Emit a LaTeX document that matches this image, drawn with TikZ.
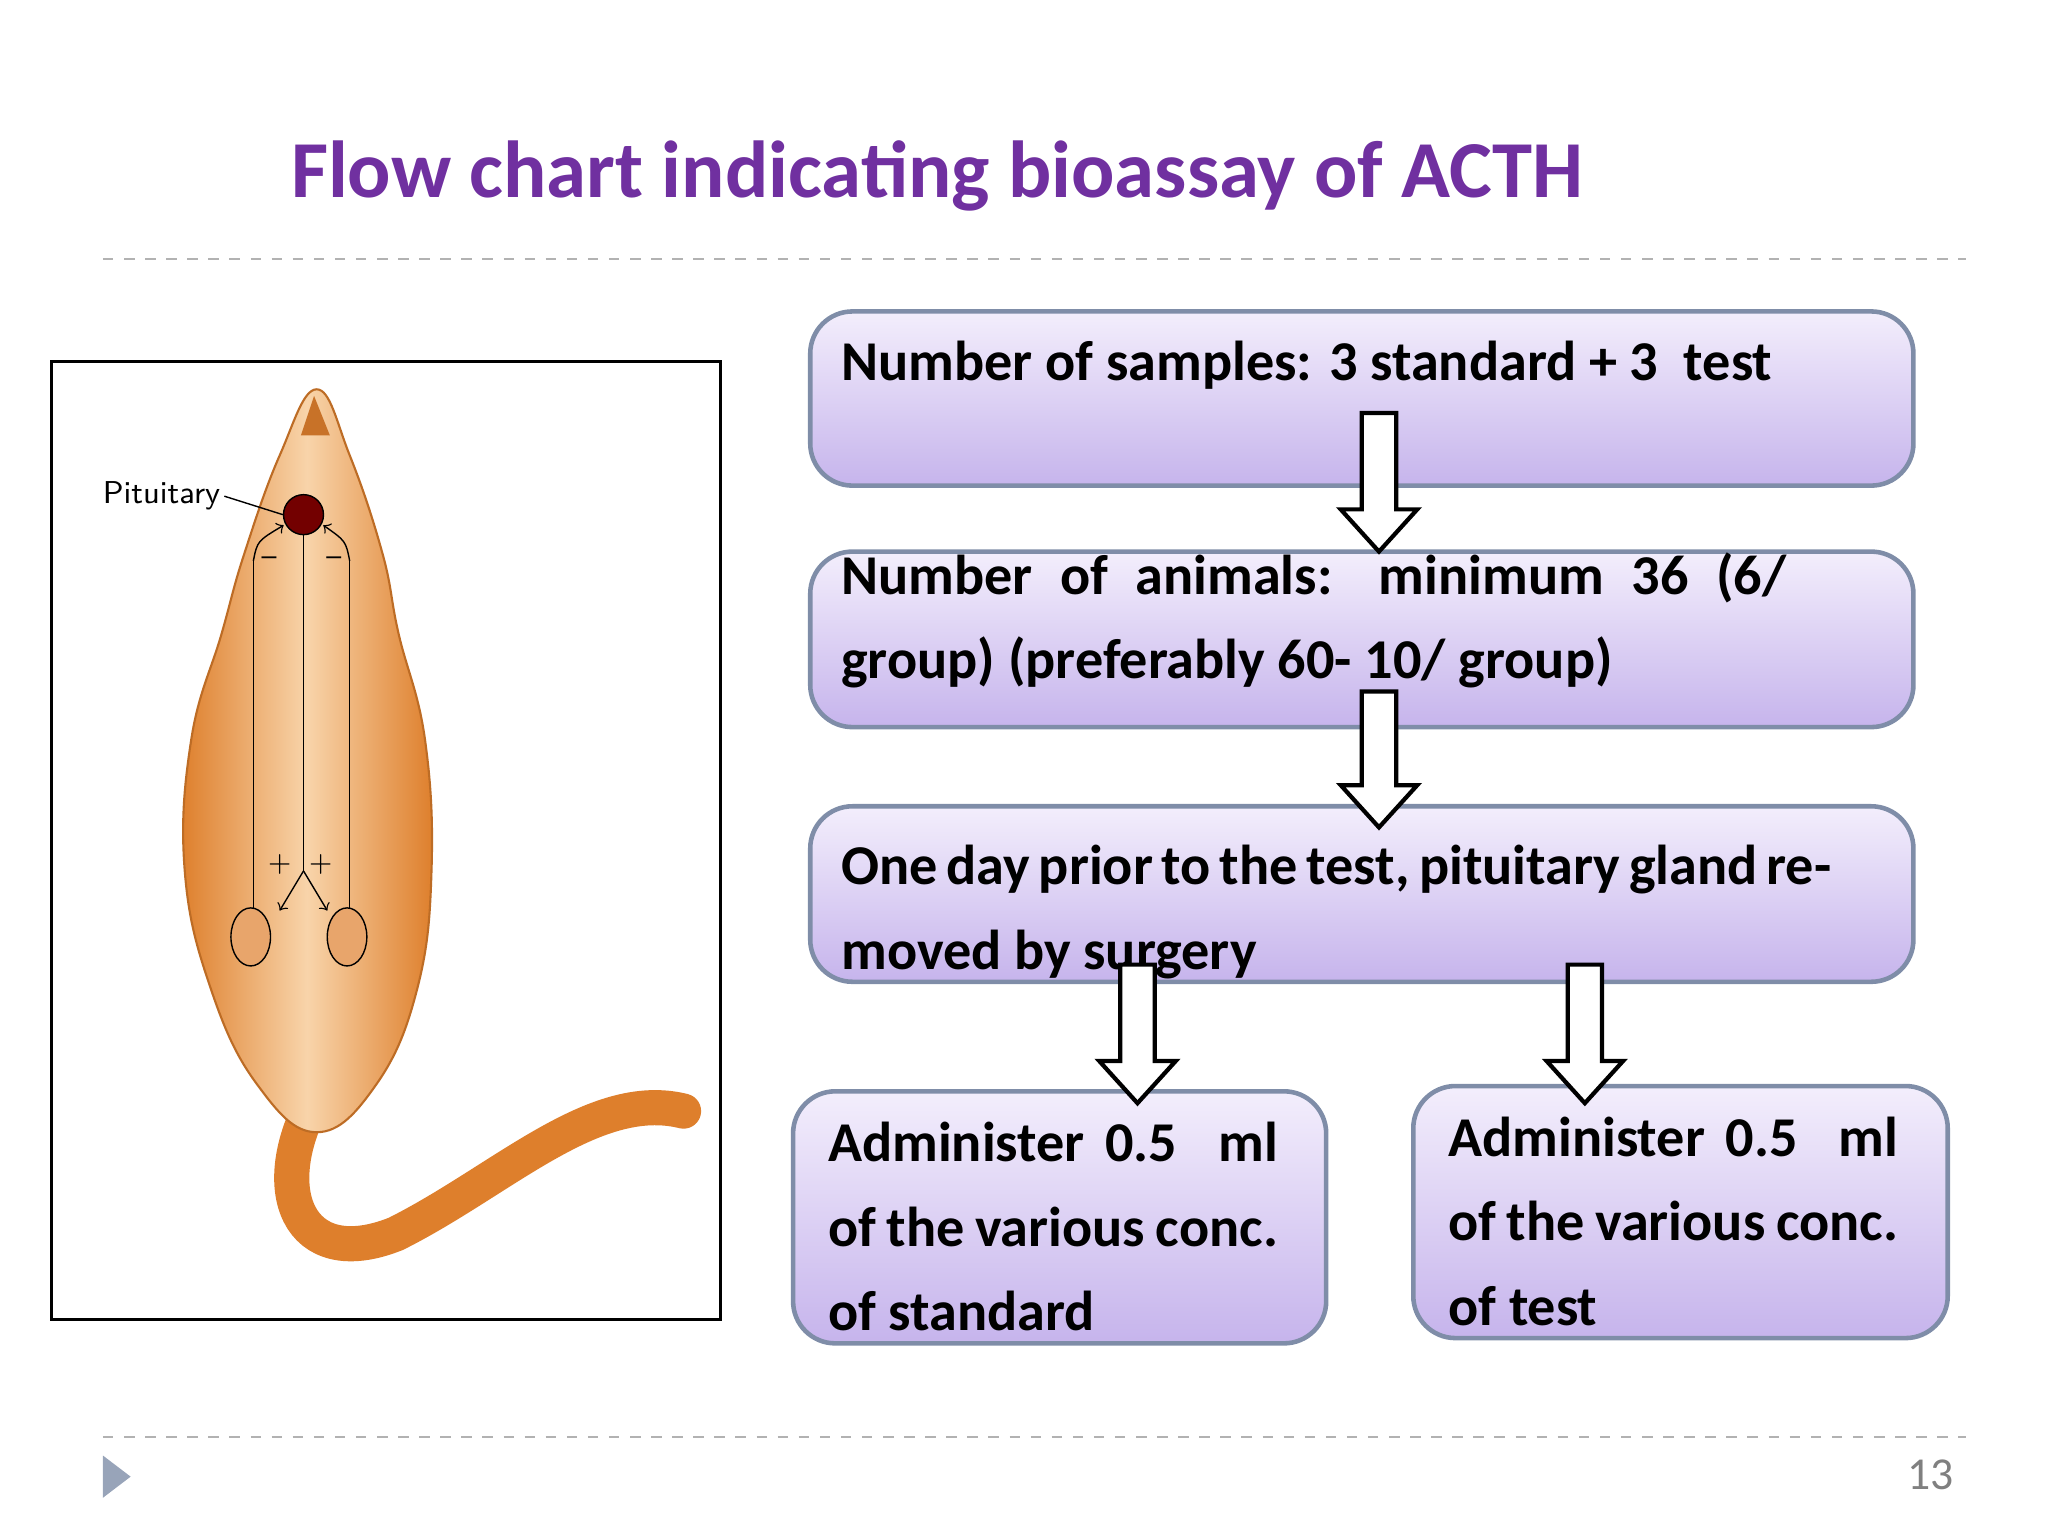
\documentclass[tikz,border=0pt]{standalone}
\usepackage{fontspec}
\setmainfont{Carlito}
\usetikzlibrary{positioning}
\definecolor{titlepurple}{HTML}{7030A0}
\definecolor{boxtop}{HTML}{F3EEFC}
\definecolor{boxbot}{HTML}{C6B4EC}
\definecolor{boxline}{HTML}{7F8DA8}
\definecolor{ratorange}{HTML}{DE7F2C}
\definecolor{ratlight}{HTML}{F8D4AA}
\tikzset{
  stepbox/.style={draw=boxline, line width=1.3pt, rounded corners=12pt,
    top color=boxtop, bottom color=boxbot},
  steptext/.style={anchor=north west, align=justify, inner sep=0pt,
    font=\fontsize{16}{24}\selectfont\bfseries},
  blockarrow/.style={draw=black, fill=white, line width=1.2pt, line join=miter}
}
% hollow arrow pointing down: x, top y, bottom y
\newcommand\downarrowat[3]{%
  \draw[blockarrow] (#1-13,#2) -- (#1+13,#2) -- (#1+13,#3-32) -- (#1+29,#3-32)
    -- (#1,#3) -- (#1-29,#3-32) -- (#1-13,#3-32) -- cycle;}
\begin{document}
\begin{tikzpicture}[x=0.013196cm, y=-0.013196cm]
\useasboundingbox (0,0) rectangle (1552,1164);
% title and rules
\node[anchor=base west, inner sep=0pt, text=titlepurple,
  font=\fontsize{23}{28}\selectfont\bfseries] (title) at (220,150) {Flow chart indicating bioassay of ACTH};
\draw[gray!60, dashed, line width=0.6pt] (78,196) -- (1490,196);
\draw[gray!60, dashed, line width=0.6pt] (78,1089) -- (1490,1089);
\fill[boxline!80] (78,1103) -- (99,1119) -- (78,1135) -- cycle;
\node[anchor=east, text=gray, font=\fontsize{13}{15}\selectfont] (pageno) at (1490,1118) {13};
% rat figure
\draw[black, line width=0.8pt, fill=white] (39,274) rectangle (546,1000);
\draw[ratorange, line width=10pt, line cap=round]
  (240,830) .. controls (200,900) and (225,965) .. (300,935)
  .. controls (380,895) and (450,825) .. (518,842);
\draw[ratorange!85!black, line width=0.6pt, left color=ratorange, right color=ratorange, middle color=ratlight]
  plot[smooth cycle, tension=0.7] coordinates {(240,295) (265,345) (290,420) (302,480)
  (322,560) (327,660) (316,750) (285,822) (240,858) (195,822) (160,750) (140,660)
  (145,560) (168,480) (185,420) (212,345)};
\fill[ratorange!90!black] (238,300) -- (250,330) -- (228,330) -- cycle;
\draw[black, thin] (192,425) -- (192,690);
\draw[black, thin] (230,405) -- (230,660);
\draw[black, thin] (265,425) -- (265,690);
\draw[black, thin, ->] (192,425) .. controls (195,410) .. (215,398);
\draw[black, thin, ->] (265,425) .. controls (262,410) .. (245,398);
\draw[black, thin, ->] (230,660) -- (212,690);
\draw[black, thin, ->] (230,660) -- (248,690);
\node[circle, fill=red!45!black, draw=black, minimum size=0.4cm, inner sep=0pt] (pituitary) at (230,390) {};
\draw[black, fill=ratorange!70, thin] (190,710) ellipse (15 and 22);
\draw[black, fill=ratorange!70, thin] (263,710) ellipse (15 and 22);
\node[anchor=east, inner sep=1pt, font=\sffamily\fontsize{9}{10}\selectfont] (pitlabel) at (170,376) {Pituitary};
\draw[black, thin] (pitlabel.east) -- (pituitary.west);
\node[font=\sffamily\fontsize{8}{9}\selectfont] (plusl) at (212,655) {+};
\node[font=\sffamily\fontsize{8}{9}\selectfont] (plusr) at (243,655) {+};
\node[font=\sffamily\fontsize{8}{9}\selectfont] (minusl) at (204,425) {--};
\node[font=\sffamily\fontsize{8}{9}\selectfont] (minusr) at (253,425) {--};
% flow boxes
\draw[stepbox] (614,236) rectangle (1450,368);
\node[steptext] (samples) at (637,258) {Number of samples: 3 standard + 3~~test};
\draw[stepbox] (614,418) rectangle (1450,551);
\node[steptext, text width=9.45cm] (animals) at (637,418) {Number of animals: minimum 36 (6/ group) (preferably 60- 10/ group)};
\draw[stepbox] (614,611) rectangle (1450,744);
\node[steptext, text width=9.9cm] (surgery) at (637,640) {One day prior to the test, pituitary gland removed by surgery};
\draw[stepbox] (601,827) rectangle (1005,1018);
\node[steptext, text width=4.5cm] (standard) at (627,850) {Administer 0.5 ~ml of the various conc. of standard};
\draw[stepbox] (1071,823) rectangle (1476,1014);
\node[steptext, text width=4.5cm] (testdose) at (1097,846) {Administer 0.5 ~ml of the various conc. of test};
% arrows
\downarrowat{1045}{313}{418}
\downarrowat{1045}{524}{627}
\downarrowat{862}{731}{836}
\downarrowat{1201}{731}{836}
\end{tikzpicture}
\end{document}
